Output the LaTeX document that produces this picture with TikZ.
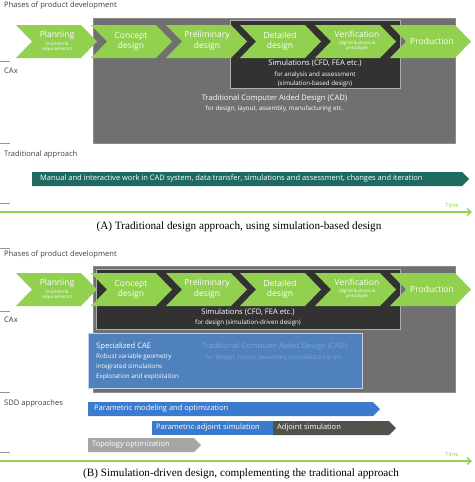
\documentclass[tikz,border=0pt]{standalone}
\usepackage{fontspec}
\setmainfont{Open Sans}
\newfontfamily\capfont{Liberation Serif}
\usetikzlibrary{arrows.meta}
\definecolor{cgreen}{RGB}{146,208,80}
\definecolor{cadgray}{RGB}{112,112,112}
\definecolor{cadedge}{RGB}{140,140,140}
\definecolor{simdark}{RGB}{50,50,50}
\definecolor{simedge}{RGB}{175,175,175}
\definecolor{labelgray}{RGB}{64,64,64}
\definecolor{tickgray}{RGB}{150,150,150}
\definecolor{teal}{RGB}{30,106,96}
\definecolor{boxblue}{RGB}{79,129,189}
\definecolor{boxedge}{RGB}{195,208,228}
\definecolor{faintblue}{RGB}{125,165,215}
\definecolor{arrblue}{RGB}{59,122,204}
\definecolor{adjgray}{RGB}{82,82,76}
\definecolor{topgray}{RGB}{166,166,166}
\definecolor{timegreen}{RGB}{146,208,80}
\newcommand\mychev[2]{\fill[chevfill] (#1,#2) -- ++(65,0) -- ++(16,16.5) -- ++(-16,16.5) -- ++(-65,0) -- ++(16,-16.5) -- cycle;}
\newcommand\mybar[6]{\fill[#6] (#1,#3) -- (#2,#3) -- (#2+7,#5) -- (#2,#4) -- (#1,#4) -- cycle;}
\tikzset{
  chevfill/.style={fill=cgreen},
  lbl/.style={anchor=west, inner sep=0, text=labelgray, font=\fontsize{7.6}{8}\selectfont},
  ctext/.style={text=white, inner sep=0, font=\fontsize{8.5}{9}\selectfont},
  csmall/.style={text=white, inner sep=0, font=\fontsize{4.5}{5}\selectfont},
  tickline/.style={draw=tickgray, line width=0.7pt},
  cadbox/.style={fill=cadgray, draw=cadedge, line width=0.8pt},
  simbox/.style={fill=simdark, draw=simedge, line width=0.8pt},
  wbig/.style={text=white, inner sep=0, font=\fontsize{7.6}{8}\selectfont},
  wsmall/.style={text=white, inner sep=0, font=\fontsize{6.2}{7}\selectfont},
  bartext/.style={anchor=west, text=white, inner sep=0, font=\fontsize{7.5}{8}\selectfont},
  sublist/.style={anchor=west, inner sep=0, text=white, font=\fontsize{6.3}{7}\selectfont},
  timeline/.style={draw=timegreen, line width=1.3pt, -{Straight Barb[length=4pt,width=7pt,line width=1.3pt]}},
  timetext/.style={text=timegreen, inner sep=0, font=\fontsize{5.8}{6}\selectfont},
  caption/.style={inner sep=0, text=black, font=\capfont\fontsize{11.2}{13}\selectfont}
}
\begin{document}
\begin{tikzpicture}[x=1pt,y=-1pt]
\useasboundingbox[fill=white] (0,0) rectangle (474,482);

% ================= Panel A =================
\node[lbl] (phA) at (4,6) {Phases of product development};
\fill[cadbox] (93,18) rectangle (455,143);
\fill[simbox] (230,20) rectangle (400,88);
\draw[cadbox,fill=none] (93,18) rectangle (455,143);
\draw[simbox,fill=none] (230,20) rectangle (400,88);
\foreach \x in {16,91,166,240,315,390} {\mychev{\x}{25}}
\node[ctext] (plA) at (57,35) {Planning};
\node[csmall] (plA2) at (57,44) {(markets \&};
\node[csmall] (plA3) at (57,49) {requirements)};
\node[ctext] (coA) at (131,36) {Concept};
\node[ctext] (coA2) at (131,46) {design};
\node[ctext] (prA) at (207,35.5) {Preliminary};
\node[ctext] (prA2) at (207,46) {design};
\node[ctext] (deA) at (280,35.5) {Detailed};
\node[ctext] (deA2) at (280,46) {design};
\node[ctext] (veA) at (357,34) {Verification};
\node[csmall] (veA2) at (357,43) {(digital \& physical};
\node[csmall] (veA3) at (357,48.5) {prototype)};
\node[ctext] (pdA) at (432,41) {Production};
\node[wbig] (simA) at (315,63) {Simulations (CFD, FEA etc.)};
\node[wsmall] (simA2) at (315,74.5) {for analysis and assessment};
\node[wsmall] (simA3) at (315,84) {(simulation-based design)};
\node[wbig] (cadA) at (274.5,99) {Traditional Computer Aided Design (CAD)};
\node[wsmall] (cadA2) at (274.5,109) {for design, layout, assembly, manufacturing etc.};
\draw[tickline] (0,61) -- (10,61);
\node[lbl] (caxA) at (4,70.5) {CAx};
\draw[tickline] (0,143) -- (10,143);
\node[lbl] (trA) at (4,155) {Traditional approach};
\mybar{32}{462}{172}{186}{179}{teal}
\node[bartext] (manA) at (40,179) {Manual and interactive work in CAD system, data transfer, simulations and assessment, changes and iteration};
\draw[tickline] (0,203) -- (10,203);
\coordinate (tA0) at (0,212);
\coordinate (tA1) at (472,212);
\draw[timeline] (tA0) -- (tA1);
\node[timetext] (timeA) at (452,205.5) {Time};
\node[caption] (capA) at (239,227) {(A) Traditional design approach, using simulation-based design};

% ================= Panel B =================
\draw[tickline] (0,248) -- (10,248);
\node[lbl] (phB) at (4,255) {Phases of product development};
\fill[cadbox] (93,266) rectangle (455,392);
\fill[simbox] (96,269) rectangle (400,329);
\draw[cadbox,fill=none] (93,266) rectangle (455,392);
\draw[simbox,fill=none] (96,269) rectangle (400,329);
\foreach \x in {16,91,166,240,315,390} {\mychev{\x}{273}}
\node[ctext] (plB) at (57,283) {Planning};
\node[csmall] (plB2) at (57,292) {(markets \&};
\node[csmall] (plB3) at (57,297) {requirements)};
\node[ctext] (coB) at (131,284) {Concept};
\node[ctext] (coB2) at (131,294) {design};
\node[ctext] (prB) at (207,283.5) {Preliminary};
\node[ctext] (prB2) at (207,294) {design};
\node[ctext] (deB) at (280,283.5) {Detailed};
\node[ctext] (deB2) at (280,294) {design};
\node[ctext] (veB) at (357,282) {Verification};
\node[csmall] (veB2) at (357,291) {(digital \& physical};
\node[csmall] (veB3) at (357,296.5) {prototype)};
\node[ctext] (pdB) at (432,289) {Production};
\node[wbig] (simB) at (248,312.5) {Simulations (CFD, FEA etc.)};
\node[wsmall] (simB2) at (248,323) {for design (simulation-driven design)};
\draw[tickline] (0,311) -- (10,311);
\node[lbl] (caxB) at (4,320) {CAx};
\fill[boxblue] (88,333) rectangle (362,388);
\draw[draw=boxedge, line width=0.8pt] (88,333) rectangle (362,388);
\node[anchor=west, inner sep=0, text=white, font=\fontsize{7.6}{8}\selectfont] (spB) at (96,347) {Specialized CAE};
\node[sublist] (spB2) at (96,357) {Robust variable geometry};
\node[sublist] (spB3) at (96,367) {Integrated simulations};
\node[sublist] (spB4) at (96,377) {Exploration and exploitation};
\node[wbig, text=faintblue] (cadB) at (274.5,347) {Traditional Computer Aided Design (CAD)};
\node[wsmall, text=faintblue] (cadB2) at (274.5,358) {for design, layout, assembly, manufacturing etc.};
\draw[tickline] (0,392) -- (10,392);
\node[lbl] (sddB) at (4,404) {SDD approaches};
\mybar{88}{373}{402}{416}{409}{arrblue}
\node[bartext] (pmB) at (94,409) {Parametric modeling and optimization};
\fill[arrblue] (152,421) rectangle (273,435);
\mybar{273}{389}{421}{435}{428}{adjgray}
\node[bartext] (paB) at (156,428) {Parametric-adjoint simulation};
\node[bartext] (adB) at (277,428) {Adjoint simulation};
\mybar{88}{194}{438}{452}{445}{topgray}
\node[bartext] (toB) at (92,445) {Topology optimization};
\draw[tickline] (0,452) -- (10,452);
\coordinate (tB0) at (0,461);
\coordinate (tB1) at (472,461);
\draw[timeline] (tB0) -- (tB1);
\node[timetext] (timeB) at (452,454.5) {Time};
\node[caption] (capB) at (241,474) {(B) Simulation-driven design, complementing the traditional approach};
\end{tikzpicture}
\end{document}
